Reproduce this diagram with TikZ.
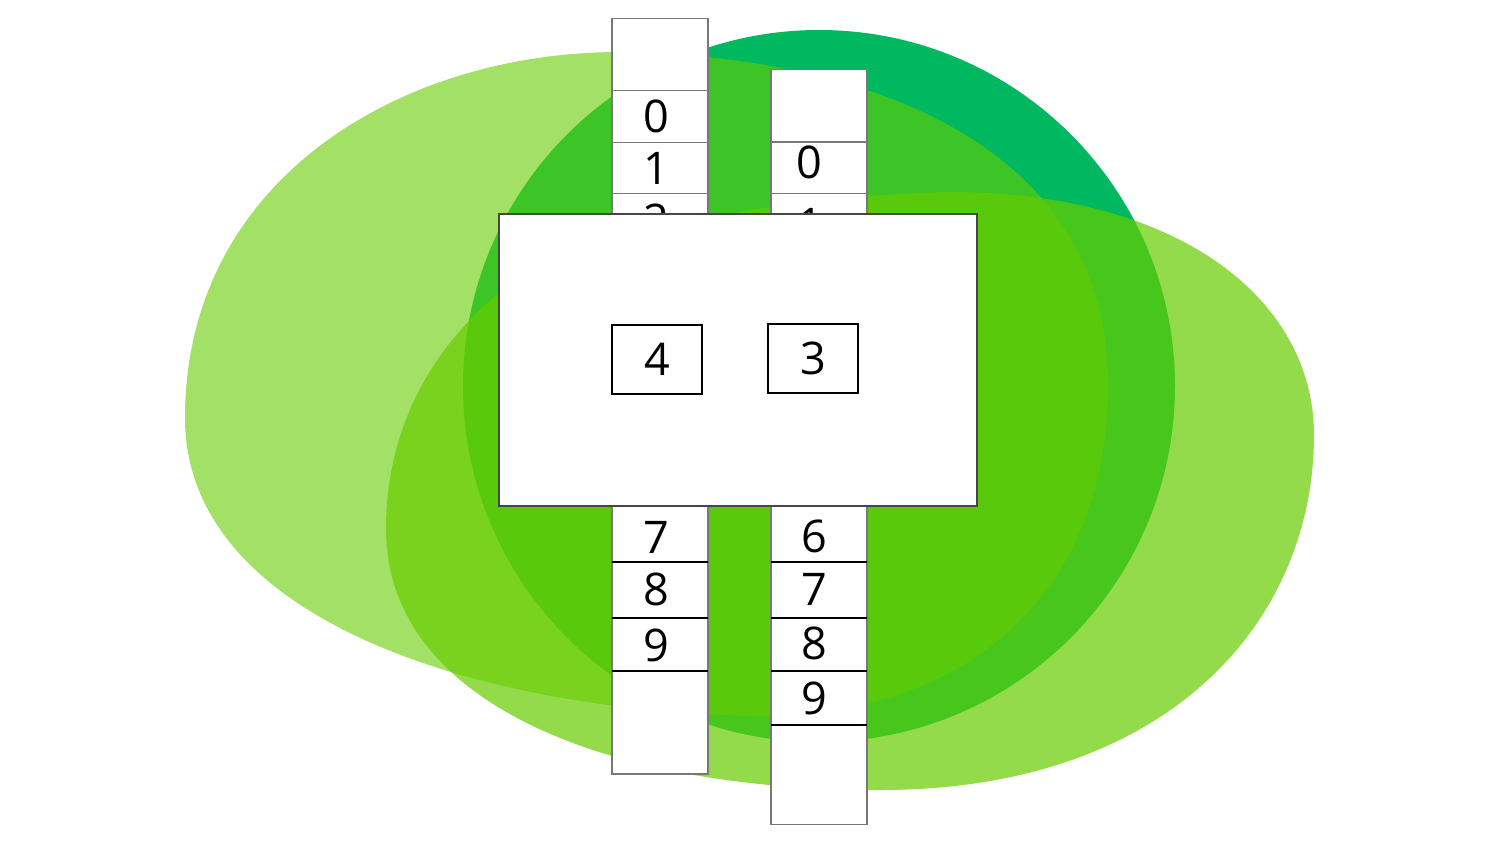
\documentclass[tikz,border=0pt]{standalone}
\usepackage{fontspec}
\setmainfont{Open Sans}
\definecolor{ringgreen}{RGB}{0,184,95}
\definecolor{leafgreen}{RGB}{102,204,0}
\definecolor{framegray}{RGB}{120,120,120}
\definecolor{hubgray}{RGB}{70,70,70}
\begin{document}
\begin{tikzpicture}[x=1pt,y=-1pt]\fontsize{45}{54}\selectfont
\useasboundingbox (0,0) rectangle (1500,844);
% blobs behind
\fill[ringgreen] (819,386) circle[radius=356];
\fill[leafgreen,opacity=0.6] (620,52) .. controls (840,55) and (1108,130) .. (1108,385)
  .. controls (1108,600) and (960,716) .. (760,716)
  .. controls (480,712) and (185,620) .. (185,418)
  .. controls (185,180) and (400,52) .. cycle;
\fill[leafgreen,opacity=0.7] (950,192) .. controls (1180,192) and (1314,300) .. (1314,435)
  .. controls (1314,620) and (1170,790) .. (880,790)
  .. controls (600,790) and (386,700) .. (386,529)
  .. controls (386,430) and (430,350) .. (499,293)
  .. controls (560,240) and (760,196) .. cycle;
% strips
\filldraw[fill=white,draw=framegray,line width=1.5pt] (612,18.5) rectangle (708,774);
\filldraw[fill=white,draw=framegray,line width=1.5pt] (771,69.5) rectangle (867,824.5);
\foreach \y in {90.7,142.7,193.3} \draw[framegray,line width=1.3pt] (612,\y) -- (708,\y);
\foreach \y in {562,618,671} \draw[line width=1.2pt] (612,\y) -- (708,\y);
\foreach \y in {142,193.7} \draw[framegray,line width=1.3pt] (771,\y) -- (867,\y);
\foreach \y in {562,618,671,725} \draw[line width=1.2pt] (771,\y) -- (867,\y);
\foreach \d/\y in {0/116,1/168,2/220,7/537,8/589,9/645} \node (l\d) at (656,\y) {\d};
\foreach \d/\x/\y in {0/809/162,1/810/224,6/814/536,7/814/589,8/814/643,9/814/698} \node (r\d) at (\x,\y) {\d};
% middle block
\node[draw=hubgray,fill=white,line width=1.5pt,minimum width=478pt,minimum height=292pt] (hub) at (738,360) {};
\node[draw,line width=1.3pt,minimum width=90pt,minimum height=69pt] (box4) at (657,359.5) {4};
\node[draw,line width=1.3pt,minimum width=90pt,minimum height=69pt] (box3) at (813,358.5) {3};
\end{tikzpicture}
\end{document}
